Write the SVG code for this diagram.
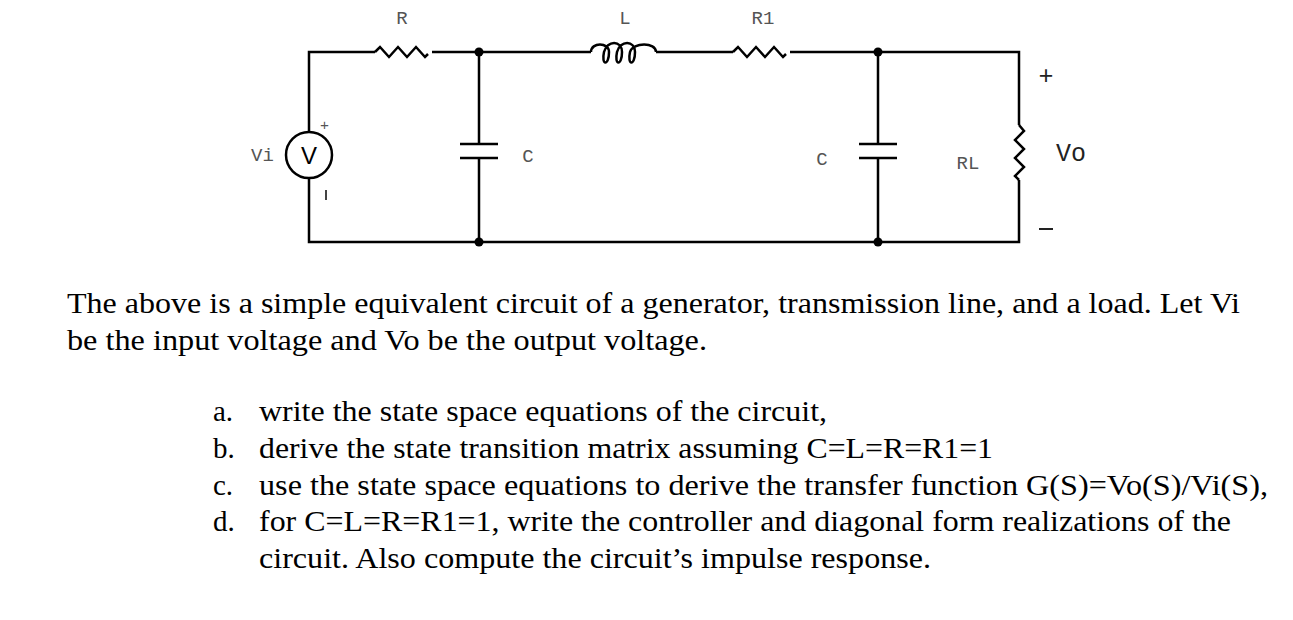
<svg xmlns="http://www.w3.org/2000/svg" width="1293" height="620" viewBox="0 0 1293 620">
<style>
.w{fill:none;stroke:#000;stroke-width:2.5}
.lb{font-family:"Liberation Mono",monospace;font-size:19px;fill:#555}
.big{font-family:"Liberation Mono",monospace;font-size:25px;fill:#222}
.t{font-family:"Liberation Serif",serif;font-size:29px;fill:#000}
</style>
<rect width="1293" height="620" fill="#fff"/>
<g id="connectors">
<path class="w" d="M309,132 V52 H375 M432,52 H591 M656,52 H733 M790,52 H1019 V125 M1019,180 V242 H309 V178 M479,52 V144 M479,158 V242 M878,52 V144 M878,158 V242"/>
</g>
<g id="Vi"><circle class="w" cx="309" cy="155" r="23"/><text x="309" y="164" text-anchor="middle" font-family="Liberation Sans,sans-serif" font-size="24">V</text>
<text class="lb" x="251" y="161">Vi</text><text class="lb" x="320" y="130" style="font-size:15px">+</text><path d="M326,190 V200" stroke="#444" stroke-width="2"/></g>
<g id="R"><path class="w" d="M375,52 l5,-5 l9,10 l9,-10 l9,10 l9,-10 l9,10 l3,-3" /><text class="lb" x="402" y="24" text-anchor="middle">R</text></g>
<g id="C1"><path class="w" d="M460,144 H498 M460,158 H498"/><text class="lb" x="528" y="162" text-anchor="middle">C</text></g>
<g id="L"><path class="w" d="M591,52 c0,-10 18,-10 18,0 c0,14 -8,14 -5,0 c3,-12 18,-12 18,0 c0,14 -8,14 -5,0 c3,-12 18,-12 18,0 c0,14 -8,14 -5,0 c3,-10 26,-10 26,0"/><text class="lb" x="625" y="24" text-anchor="middle">L</text></g>
<g id="R1"><path class="w" d="M733,52 l5,-5 l9,10 l9,-10 l9,10 l9,-10 l9,10 l3,-3" /><text class="lb" x="763" y="24" text-anchor="middle">R1</text></g>
<g id="C2"><path class="w" d="M859,144 H897 M859,158 H897"/><text class="lb" x="822" y="165" text-anchor="middle">C</text></g>
<g id="RL"><path class="w" d="M1019,125 l5,6 l-9,9 l9,9 l-9,9 l9,9 l-9,9 l4,4" /><text class="lb" x="968" y="169" text-anchor="middle">RL</text>
<text class="big" x="1046" y="84" text-anchor="middle">+</text><text class="big" x="1056" y="161">Vo</text><path d="M1039,229 H1053" stroke="#222" stroke-width="2"/></g>
<g id="dots" fill="#000"><circle cx="479" cy="52" r="4.5"/><circle cx="479" cy="242" r="4.5"/><circle cx="878" cy="52" r="4.5"/><circle cx="878" cy="242" r="4.5"/></g>
<g id="text">
<text class="t" x="67" y="313" textLength="1173" lengthAdjust="spacingAndGlyphs">The above is a simple equivalent circuit of a generator, transmission line, and a load. Let Vi</text>
<text class="t" x="67" y="350" textLength="640" lengthAdjust="spacingAndGlyphs">be the input voltage and Vo be the output voltage.</text>
<text class="t" x="213" y="421">a.</text><text class="t" x="259" y="421" textLength="568" lengthAdjust="spacingAndGlyphs">write the state space equations of the circuit,</text>
<text class="t" x="213" y="458">b.</text><text class="t" x="259" y="458" textLength="734" lengthAdjust="spacingAndGlyphs">derive the state transition matrix assuming C=L=R=R1=1</text>
<text class="t" x="213" y="495">c.</text><text class="t" x="259" y="495" textLength="1009" lengthAdjust="spacingAndGlyphs">use the state space equations to derive the transfer function G(S)=Vo(S)/Vi(S),</text>
<text class="t" x="213" y="531">d.</text><text class="t" x="259" y="531" textLength="972" lengthAdjust="spacingAndGlyphs">for C=L=R=R1=1, write the controller and diagonal form realizations of the</text>
<text class="t" x="259" y="568" textLength="672" lengthAdjust="spacingAndGlyphs">circuit. Also compute the circuit’s impulse response.</text>
</g>
</svg>
